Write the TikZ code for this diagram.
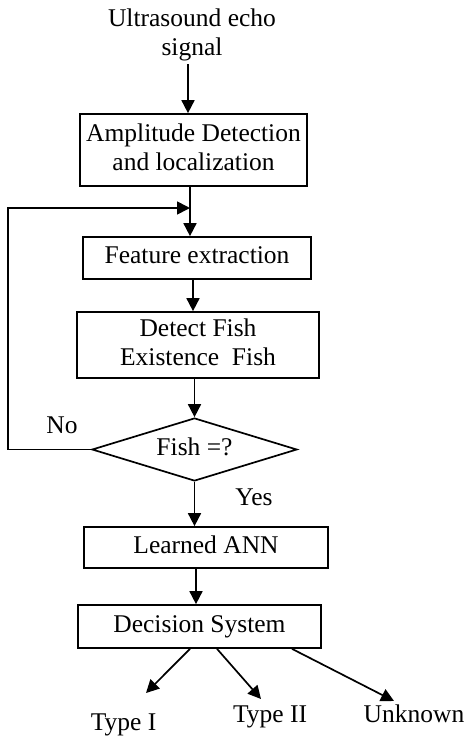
\documentclass[tikz,border=0pt]{standalone}
\usepackage{fontspec}
\setmainfont{Liberation Serif}
\usetikzlibrary{arrows.meta,shapes.geometric}
\begin{document}
\begin{tikzpicture}[x=1pt,y=-1pt,
  every node/.style={font=\fontsize{25.5}{29}\selectfont, inner sep=0pt},
  box/.style={draw, line width=1.7pt, align=center},
  lbl/.style={align=center},
  arr/.style={line width=1.7pt, -{Triangle[length=13pt,width=13pt]}},
  ln/.style={line width=1.7pt}]
\useasboundingbox (0,0) rectangle (474,744);
\node[lbl] (in) at (192,35) {\strut Ultrasound echo\\\strut signal};
\node[box, minimum width=227pt, minimum height=72pt] (b1) at (193.5,150) {\strut Amplitude Detection\\\strut and localization};
\node[box, minimum width=228pt, minimum height=42pt] (fe) at (197,258) {\strut Feature extraction};
\node[box, minimum width=242pt, minimum height=66pt] (de) at (198,345) {\strut Detect Fish\\\strut Existence~~Fish};
\node[draw, diamond, shape aspect=3.25, line width=1.7pt, minimum width=205pt, minimum height=63pt] (dia) at (194.5,449.5) {\strut Fish =?\hspace{10pt}};
\node[box, minimum width=244pt, minimum height=41pt] (la) at (206,547.5) {\strut Learned ANN};
\node[box, minimum width=243pt, minimum height=43pt] (ds) at (199.5,626.5) {\strut Decision System};
\node[lbl] (no) at (62,428) {\strut No};
\node[lbl] (yes) at (254,500) {\strut Yes};
\node[lbl] (t1) at (123.5,725) {\strut Type I};
\node[lbl] (t2) at (270,717) {\strut Type II};
\node[lbl] (uk) at (414,717) {\strut Unknown};
% connectors
\draw[arr] (188,0 |- in.south) -- (188,0 |- b1.north);
\coordinate (fb) at (190,208);
\draw[arr] (190,0 |- b1.south) -- (190,0 |- fe.north);
\draw[arr] (193,0 |- fe.south) -- (193,0 |- de.north);
\draw[arr] (dia.north |- de.south) -- (dia.north);
\draw[arr] (dia.south) -- (dia.south |- la.north);
\draw[arr] (196,0 |- la.south) -- (196,0 |- ds.north);
\coordinate (c1) at (8,449.5);
\draw[arr] (dia.west) -- (c1) |- (fb);
\coordinate (e1) at (146,693);
\coordinate (e2) at (261,699);
\coordinate (e3) at (394,701);
\draw[arr] (190,0 |- ds.south) -- (e1);
\draw[arr] (217,0 |- ds.south) -- (e2);
\draw[arr] (292,0 |- ds.south) -- (e3);
\end{tikzpicture}
\end{document}
